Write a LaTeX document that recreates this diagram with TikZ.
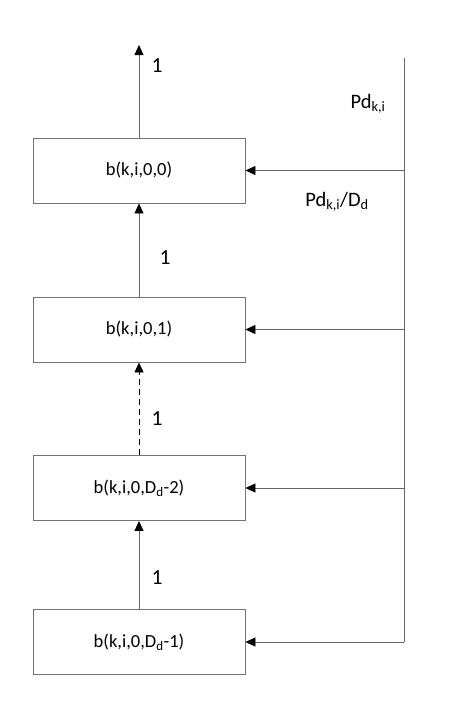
\documentclass[tikz,border=0pt]{standalone}
\usepackage{fontspec}
\setmainfont{Carlito}
\usetikzlibrary{arrows.meta}
\begin{document}
\begin{tikzpicture}[x=1pt,y=-1pt,
  state/.style={draw=black!55,line width=0.9pt,minimum width=212pt,minimum height=65pt,inner sep=0pt,font=\fontsize{18.5}{22}\selectfont},
  conn/.style={draw=black!60,line width=0.9pt,-{Triangle[length=10pt,width=9pt,color=black]}},
  dconn/.style={draw=black,line width=0.9pt,dash pattern=on 6pt off 4pt,-{Triangle[length=10pt,width=9pt]}},
  lab/.style={font=\fontsize{21.5}{25}\selectfont,inner sep=0pt},
  rlab/.style={font=\fontsize{20.5}{24}\selectfont,inner sep=0pt}]
\useasboundingbox (0,0) rectangle (474,710);
\node[state] (b0) at (139,170.5) {b(k,i,0,0)};
\node[state] (b1) at (139,329.5) {b(k,i,0,1)};
\node[state] (b2) at (139,488) {b(k,i,0,D\textsubscript{d}-2)};
\node[state] (b3) at (139,642) {b(k,i,0,D\textsubscript{d}-1)};
\coordinate (out) at (139,45);
\coordinate (vtop) at (404,58);
\coordinate (vbot) at (404,642);
\draw[conn] (b0.north) -- (out);
\draw[conn] (b1.north) -- (b0.south);
\draw[dconn] (b2.north) -- (b1.south);
\draw[conn] (b3.north) -- (b2.south);
\draw[draw=black!60,line width=0.9pt] (vtop) -- (vbot);
\draw[conn] (vtop |- b0.east) -- (b0.east);
\draw[conn] (vtop |- b1.east) -- (b1.east);
\draw[conn] (vtop |- b2.east) -- (b2.east);
\draw[conn] (vbot) -- (b3.east);
\node[lab] (l0) at (157,66) {1};
\node[lab] (l1) at (165,258) {1};
\node[lab] (l2) at (157,419) {1};
\node[lab] (l3) at (157,578) {1};
\node[rlab] (p1) at (368,104) {Pd\textsubscript{k,i}};
\node[rlab] (p2) at (337,202) {Pd\textsubscript{k,i}/D\textsubscript{d}};
\end{tikzpicture}
\end{document}
